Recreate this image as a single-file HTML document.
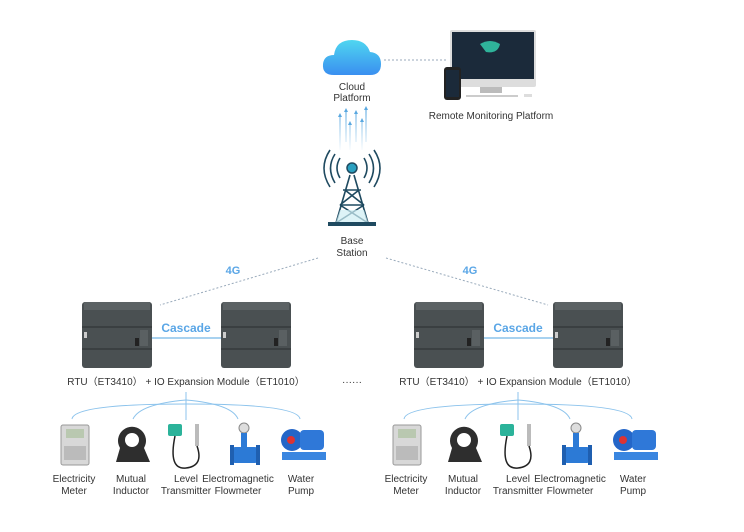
<!DOCTYPE html>
<html><head><meta charset="utf-8"><style>
html,body{margin:0;padding:0;background:#fff;width:744px;height:532px;overflow:hidden}
svg{display:block}
text{font-family:"Liberation Sans",sans-serif;fill:#333}
</style></head><body>
<svg width="744" height="532" viewBox="0 0 744 532" xmlns="http://www.w3.org/2000/svg">
<defs>
<linearGradient id="cl" x1="0" y1="0" x2="0" y2="1"><stop offset="0" stop-color="#4fd6f0"/><stop offset="1" stop-color="#3a8ff0"/></linearGradient>
<linearGradient id="ar" gradientUnits="userSpaceOnUse" x1="0" y1="152" x2="0" y2="106"><stop offset="0" stop-color="#fff"/><stop offset="1" stop-color="#5aa8e0"/></linearGradient>
<g id="mod">
<rect x="0" y="0" width="70" height="66" rx="3" fill="#4a5052"/>
<rect x="2" y="0" width="66" height="8" fill="#5c6264"/>
<rect x="0" y="24" width="70" height="2" fill="#3a3f41"/>
<rect x="0" y="46" width="70" height="2" fill="#3a3f41"/>
<rect x="2" y="30" width="3" height="6" fill="#ccc"/>
<rect x="53" y="36" width="4" height="8" fill="#222"/>
<rect x="58" y="28" width="8" height="16" fill="#5a6062"/>
</g>
<g id="grp">
<use href="#mod" x="82" y="302"/>
<use href="#mod" x="221" y="302"/>
<line x1="152" y1="338" x2="221" y2="338" stroke="#8cc3ec" stroke-width="1.5"/>
<text x="186" y="332" text-anchor="middle" font-size="12" font-weight="bold" style="fill:#5aa6e6">Cascade</text>
<text x="186" y="385" text-anchor="middle" font-size="10">RTU（ET3410） +  IO Expansion Module（ET1010）</text>
<g fill="none" stroke="#8cc3ec" stroke-width="1">
<line x1="186" y1="392" x2="186" y2="420"/>
<path d="M72 419 Q74 404 186 404 Q298 404 300 419"/>
<path d="M133 419 Q140 404 186 400 Q232 404 238 419"/>
</g>
<rect x="61" y="425" width="28" height="40" rx="2" fill="#d8d8d8" stroke="#999"/>
<rect x="66" y="429" width="18" height="9" fill="#b9c8b0"/>
<rect x="64" y="446" width="22" height="14" fill="#bbb"/>
<path d="M116 462 L120 448 A14 14 0 1 1 144 448 L150 462 Z" fill="#2e2e2e"/>
<circle cx="132" cy="440" r="7" fill="#fff"/>
<rect x="168" y="424" width="14" height="12" rx="2" fill="#2bb39a"/>
<rect x="195" y="424" width="4" height="22" fill="#bbb"/>
<path d="M175 436 Q168 470 186 468 Q204 466 197 446" fill="none" stroke="#222" stroke-width="1.5"/>
<circle cx="244" cy="428" r="5" fill="#ddd" stroke="#888"/>
<rect x="241" y="433" width="6" height="14" fill="#2c7ad6"/>
<rect x="232" y="447" width="26" height="16" rx="3" fill="#2c7ad6"/>
<rect x="230" y="445" width="4" height="20" fill="#1f5fb0"/>
<rect x="256" y="445" width="4" height="20" fill="#1f5fb0"/>
<circle cx="292" cy="440" r="11" fill="#2466c8"/>
<circle cx="291" cy="440" r="4" fill="#d33"/>
<rect x="300" y="430" width="24" height="20" rx="4" fill="#2f78d8"/>
<rect x="282" y="452" width="44" height="8" fill="#3a86e0"/>
<g font-size="10" text-anchor="middle">
<text x="74" y="482">Electricity</text><text x="74" y="494">Meter</text>
<text x="131" y="482">Mutual</text><text x="131" y="494">Inductor</text>
<text x="186" y="482">Level</text><text x="186" y="494">Transmitter</text>
<text x="238" y="482">Electromagnetic</text><text x="238" y="494">Flowmeter</text>
<text x="301" y="482">Water</text><text x="301" y="494">Pump</text>
</g>
</g>
</defs>

<path d="M334 75 Q322 75 323 64 Q324 55 334 55 Q336 40 352 40 Q366 40 370 52 Q381 53 381 64 Q381 75 370 75 Z" fill="url(#cl)"/>
<text x="352" y="90" text-anchor="middle" font-size="10">Cloud</text>
<text x="352" y="101" text-anchor="middle" font-size="10">Platform</text>
<line x1="384" y1="60" x2="447" y2="60" stroke="#9ab" stroke-width="1" stroke-dasharray="2,2"/>
<rect x="450" y="30" width="86" height="57" rx="2" fill="#ddd"/>
<rect x="452" y="32" width="82" height="47" fill="#1b2a3a"/>
<path d="M480 44 Q490 38 500 44 Q498 54 486 52 Z" fill="#2fb39a"/>
<rect x="480" y="87" width="22" height="6" fill="#bbb"/>
<rect x="466" y="95" width="52" height="2" fill="#ccc"/>
<rect x="524" y="94" width="8" height="3" fill="#ddd"/>
<rect x="444" y="67" width="17" height="33" rx="3" fill="#222"/>
<rect x="446" y="70" width="13" height="27" fill="#1b2a3a"/>
<text x="491" y="119" text-anchor="middle" font-size="10">Remote Monitoring Platform</text>
<g stroke="url(#ar)" stroke-width="1.2">
<line x1="340" y1="150" x2="340" y2="115"/><line x1="346" y1="142" x2="346" y2="110"/>
<line x1="350" y1="150" x2="350" y2="123"/><line x1="356" y1="142" x2="356" y2="112"/>
<line x1="362" y1="150" x2="362" y2="120"/><line x1="366" y1="142" x2="366" y2="108"/>
</g>
<g fill="#5aa8e0">
<path d="M338 117 L340 113 L342 117Z"/><path d="M344 112 L346 108 L348 112Z"/>
<path d="M348 125 L350 121 L352 125Z"/><path d="M354 114 L356 110 L358 114Z"/>
<path d="M360 122 L362 118 L364 122Z"/><path d="M364 110 L366 106 L368 110Z"/>
</g>
<g fill="none" stroke="#1f4a60" stroke-width="1.6">
<path d="M340 158 Q334 168 340 178"/><path d="M335 154 Q326 168 335 183"/><path d="M330 150 Q318 168 330 187"/>
<path d="M364 158 Q370 168 364 178"/><path d="M369 154 Q378 168 369 183"/><path d="M374 150 Q386 168 374 187"/>
<path d="M350 175 L336 223 M354 175 L368 223 M343 190 L361 190 M340 205 L364 205 M345 190 L364 205 M359 190 L340 205 M340 205 L368 223 M364 205 L336 223"/>
</g>
<circle cx="352" cy="168" r="5" fill="#2aa0c0" stroke="#1f4a60" stroke-width="1.5"/>
<rect x="328" y="222" width="48" height="4" fill="#1f4a60"/>
<path d="M340 210 L364 210 L368 222 L336 222 Z" fill="#cfeef4" opacity="0.7"/>
<text x="352" y="244" text-anchor="middle" font-size="10">Base</text>
<text x="352" y="256" text-anchor="middle" font-size="10">Station</text>
<g stroke="#9ab" stroke-width="1" stroke-dasharray="2,2">
<line x1="318" y1="258" x2="160" y2="305"/><line x1="386" y1="258" x2="548" y2="305"/>
</g>
<text x="233" y="274" text-anchor="middle" font-size="11" font-weight="bold" style="fill:#5aa6e6">4G</text>
<text x="470" y="274" text-anchor="middle" font-size="11" font-weight="bold" style="fill:#5aa6e6">4G</text>
<use href="#grp"/>
<use href="#grp" x="332"/>
<text x="352" y="385" text-anchor="middle" font-size="10">······</text>
</svg>
</body></html>
